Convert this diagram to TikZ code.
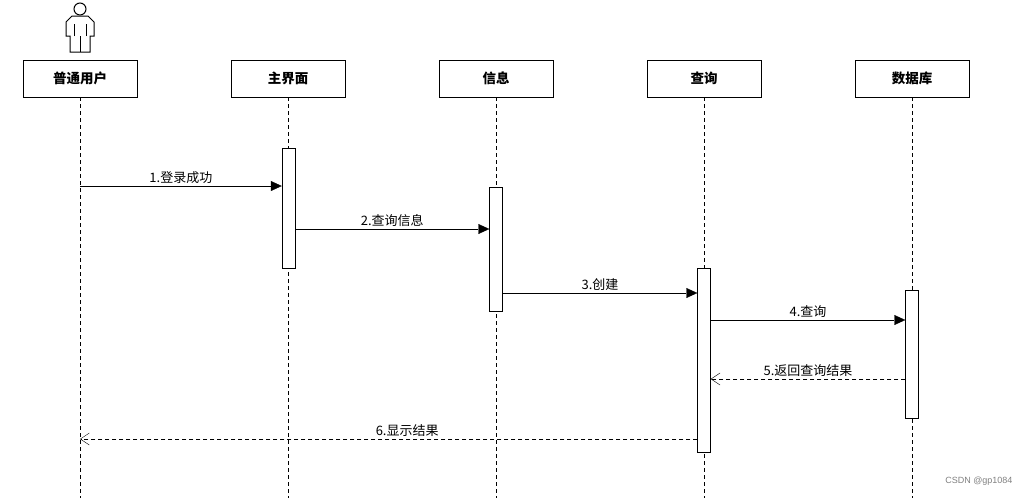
\documentclass[tikz,border=0pt]{standalone}
\usepackage{fontspec}
\setmainfont{Liberation Sans}
\newfontfamily\cjk{Noto Sans CJK SC}
\usetikzlibrary{arrows.meta}
\begin{document}
\begin{tikzpicture}[x=1pt,y=-1pt,
  hdr/.style={draw,fill=white,minimum width=114pt,minimum height=37pt,font=\cjk\bfseries\fontsize{13.5}{15}\selectfont,inner sep=0},
  life/.style={dashed,dash pattern=on 4pt off 3pt,black},
  act/.style={draw,fill=white,minimum width=13pt,inner sep=0},
  sync/.style={-{Triangle[length=11pt,width=10pt]}},
  ret/.style={dashed,dash pattern=on 4pt off 3pt,-{Straight Barb[length=9pt,width=12pt]}},
  lbl/.style={font=\cjk\fontsize{13}{15}\selectfont,above,inner sep=2pt}]
\useasboundingbox (0,0) rectangle (1020,498);
\foreach \n/\x/\t in {u/80/普通用户,m/288/主界面,i/496/信息,q/704/查询,d/912/数据库}{
  \draw[life] (\x,97) -- (\x,498);
  \node[hdr] (\n) at (\x,78.5) {\t};
}
\node[act,minimum height=120pt] (am) at (288.5,208) {};
\node[act,minimum height=124pt] (ai) at (496,249) {};
\node[act,minimum height=184pt] (aq) at (704,360) {};
\node[act,minimum height=128pt] (ad) at (912,354) {};
% actor
\begin{scope}[line width=1pt]
\draw (80,9) circle (6);
\draw (72,16) -- (88,16) -- (94,22) -- (94,36) -- (90,36) -- (90,52) -- (70,52) -- (70,36) -- (66,36) -- (66,22) -- cycle;
\draw (74,36) -- (74,24) (86,36) -- (86,24) (80,36) -- (80,52);
\end{scope}
\coordinate (u1) at (80,186);
\coordinate (u6) at (80,439);
\draw[sync] (u1) -- (am.west|-u1) node[lbl,midway] {1.登录成功};
\draw[sync] (am.east|-0,229) -- (ai.west|-0,229) node[lbl,midway] {2.查询信息};
\draw[sync] (ai.east|-0,293) -- (aq.west|-0,293) node[lbl,midway] {3.创建};
\draw[sync] (aq.east|-0,320) -- (ad.west|-0,320) node[lbl,midway] {4.查询};
\draw[ret] (ad.west|-0,379) -- (aq.east|-0,379) node[lbl,midway] {5.返回查询结果};
\draw[ret] (aq.west|-u6) -- (u6) node[lbl,pos=0.47] {6.显示结果};
\node[font=\fontsize{9}{11}\selectfont,text=gray,anchor=east] (wm) at (1016,481) {CSDN @gp1084};
\end{tikzpicture}
\end{document}
